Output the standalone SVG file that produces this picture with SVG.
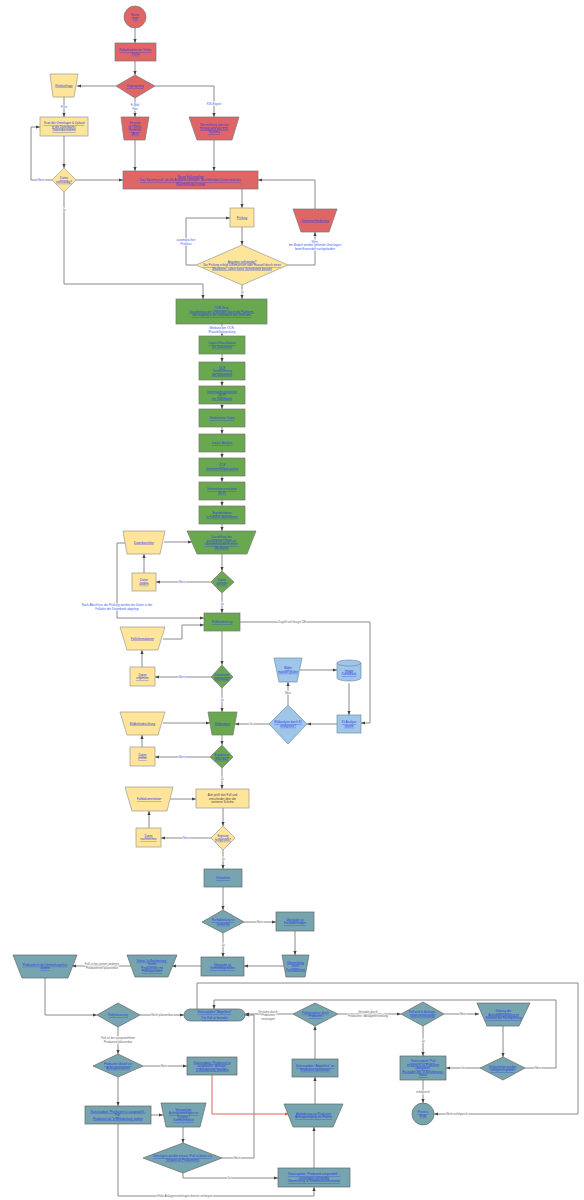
<svg xmlns="http://www.w3.org/2000/svg" width="584" height="1200" viewBox="0 0 584 1200">
<defs>
<marker id="a" viewBox="0 0 10 10" refX="10" refY="5" markerWidth="4" markerHeight="4" markerUnits="userSpaceOnUse" orient="auto"><path d="M0,1 L10,5 L0,9 z" fill="#444"/></marker>
<marker id="ar" viewBox="0 0 10 10" refX="10" refY="5" markerWidth="4" markerHeight="4" markerUnits="userSpaceOnUse" orient="auto"><path d="M0,1 L10,5 L0,9 z" fill="#e06060"/></marker>
</defs>
<style>
.red{fill:#e06666;stroke:#777;stroke-width:0.7}
.yel{fill:#ffe599;stroke:#999;stroke-width:0.7}
.grn{fill:#6aa84f;stroke:#777;stroke-width:0.7}
.blu{fill:#9fc5e8;stroke:#6f8fa8;stroke-width:0.7}
.tea{fill:#76a5af;stroke:#666;stroke-width:0.7}
text{font-family:"Liberation Sans",Arial,sans-serif;text-anchor:middle}
.t{font-size:3px;fill:#2b3fe0;text-decoration:underline}
.p{font-size:3px;fill:#444}
.l{font-size:3px;fill:#4060f0;paint-order:stroke;stroke:#fff;stroke-width:1.2}
.g{font-size:3px;fill:#666;paint-order:stroke;stroke:#fff;stroke-width:1.2}
#edges path{fill:none;stroke:#8a8a8a;stroke-width:1;stroke-linejoin:round;marker-end:url(#a)}
#edges path.r{stroke:#e06060;marker-end:url(#ar)}
</style>
<rect width="584" height="1200" fill="#fff"/>
<g id="edges">
<path d="M135,28 V43"/>
<path d="M135,61 V75"/>
<path d="M116,86 H77"/>
<path d="M64,97 V117"/>
<path d="M135,98 V117"/>
<path d="M155,86 H214 V117"/>
<path d="M135,140 V171"/>
<path d="M214,140 V171"/>
<path d="M64,136 V168"/>
<path d="M52,180 H31 V127 H40"/>
<path d="M76,180 H123"/>
<path d="M242,189 V208"/>
<path d="M242,227 V245"/>
<path d="M196,265 H186 V218 H230"/>
<path d="M288,265 H315 V232"/>
<path d="M315,209 V180 H258"/>
<path d="M242,285 V299"/>
<path d="M64,192 V284 H203 V299"/>
<path d="M222,324 V336"/>
<path d="M222,354 V362"/>
<path d="M222,380 V386"/>
<path d="M222,404 V409"/>
<path d="M222,427 V434"/>
<path d="M222,452 V458"/>
<path d="M222,476 V482"/>
<path d="M222,500 V506"/>
<path d="M222,524 V531"/>
<path d="M164,542 H192"/>
<path d="M222,554 V571"/>
<path d="M211,582 H156"/>
<path d="M144,573 V554"/>
<path d="M125,543 H117 V618 H204"/>
<path d="M222,593 V613"/>
<path d="M163,639 H182 V625 H204"/>
<path d="M240,622 H370 V723 H361"/>
<path d="M222,631 V665"/>
<path d="M211,677 H155"/>
<path d="M142,667 V650"/>
<path d="M222,688 V712"/>
<path d="M163,723 H210"/>
<path d="M269,724 H235"/>
<path d="M288,705 V682"/>
<path d="M300,670 H337"/>
<path d="M349,683 V715"/>
<path d="M337,724 H307"/>
<path d="M222,735 V745"/>
<path d="M210,757 H155"/>
<path d="M142,747 V735"/>
<path d="M222,768 V789"/>
<path d="M170,799 H196"/>
<path d="M223,808 V826"/>
<path d="M211,838 H161"/>
<path d="M149,828 V811"/>
<path d="M223,850 V869"/>
<path d="M223,887 V910"/>
<path d="M244,922 H276"/>
<path d="M295,931 V955"/>
<path d="M284,966 H244"/>
<path d="M223,933 V957"/>
<path d="M201,966 H172"/>
<path d="M131,966 H72"/>
<path d="M45,978 V1015 H97"/>
<path d="M140,1015 H184"/>
<path d="M118,1027 V1054"/>
<path d="M143,1066 H187"/>
<path class="r" d="M212,1075 V1114 H289"/>
<path d="M118,1077 V1106"/>
<path d="M151,1115 H163"/>
<path d="M183,1127 V1143"/>
<path d="M222,1158 H254 V1015 H245"/>
<path d="M293,1014 H245"/>
<path d="M183,1173 V1178 H278"/>
<path d="M118,1124 V1196 H314 V1187"/>
<path d="M314,1168 V1127"/>
<path d="M315,1104 V1077"/>
<path d="M315,1059 V1026"/>
<path d="M338,1014 H401"/>
<path d="M444,1014 H479"/>
<path d="M503,1026 V1057"/>
<path d="M480,1068 H446"/>
<path d="M423,1026 V1056"/>
<path d="M423,1080 V1103"/>
<path d="M525,1068 H556 V1000 H214 V1009"/>
<path d="M197,1009 V983 H578 V1114 H434"/>
</g>
<g id="edge-labels">
<text class="l" x="64" y="108">Post</text>
<text class="l" x="135" y="106.3">E-Mail<tspan x="135" dy="3.5">Fax</tspan></text>
<text class="l" x="214" y="105">KIS-Export</text>
<text class="l" x="41" y="181">Nein</text>
<text class="g" x="64" y="211">Ja</text>
<text class="l" x="186" y="241.3">automatischer<tspan x="186" dy="3.5">Prozess</tspan></text>
<text class="l" x="315" y="242.5">Nein,<tspan x="315" dy="3.5">bei Bedarf werden fehlende Unterlagen</tspan><tspan x="315" dy="3.5">beim Einsender nachgefordert</tspan></text>
<text class="g" x="242" y="293">Ja</text>
<text class="l" x="222" y="329.3">Meldung der OCR-<tspan x="222" dy="3.5">Plausibilitätsprüfung</tspan></text>
<text class="l" x="182" y="583">Nein</text>
<text class="l" x="222" y="605">Ja</text>
<text class="l" x="117" y="606.3">Nach Abschluss der Prüfung werden die Daten in der<tspan x="117" dy="3.5">Fallakte der Datenbank abgelegt</tspan></text>
<text class="g" x="292" y="623">Zugriff auf Image DB</text>
<text class="l" x="182" y="678">Nein</text>
<text class="l" x="222" y="701">Ja</text>
<text class="g" x="251" y="725">Ja</text>
<text class="g" x="288" y="694">Nein</text>
<text class="l" x="182" y="758">Nein</text>
<text class="g" x="222" y="780">Ja</text>
<text class="l" x="186" y="839">Nein</text>
<text class="g" x="223" y="860">Ja</text>
<text class="g" x="260" y="923">Nein</text>
<text class="g" x="223" y="946">Ja</text>
<text class="g" x="102" y="965.3">Fall ist bei einem anderen<tspan x="102" dy="3.5">Produzenten platzierbar</tspan></text>
<text class="g" x="162" y="1016">Nicht platzierbar</text>
<text class="g" x="118" y="1039.3">Fall ist bei ausgewähltem<tspan x="118" dy="3.5">Produzent platzierbar</tspan></text>
<text class="g" x="164" y="1067">Nein</text>
<text class="g" x="237" y="1159">Nein</text>
<text class="g" x="229" y="1179">Ja</text>
<text class="g" x="185" y="1197">Falls Anlagenunterlagen bereits vorliegen</text>
<text class="g" x="268" y="1012.5">Vergabe durch<tspan x="268" dy="3.5">Produzent</tspan><tspan x="268" dy="3.5">verweigert</tspan></text>
<text class="g" x="368" y="1013.3">Vergabe durch<tspan x="368" dy="3.5">Produzent / Anlagenerstellung</tspan></text>
<text class="g" x="463" y="1015">Nein</text>
<text class="g" x="423" y="1042">Ja</text>
<text class="g" x="463" y="1069">Ja</text>
<text class="g" x="538" y="1069">Nein</text>
<text class="g" x="423" y="1093">erfolgreich</text>
<text class="g" x="457" y="1115">Nicht erfolgreich</text>
</g>
<g id="start"><circle class="red" cx="135" cy="17" r="11"/><text class="t" x="135" y="16.3">Neuer<tspan x="135" dy="3.5">Fall</tspan></text></g>
<g id="n-fallaufnahme"><rect class="red" x="115" y="43" width="41" height="18"/><text class="t" x="135.5" y="51.3">Fallaufnahme im Online-<tspan x="135.5" dy="3.5">Portal</tspan></text></g>
<g id="d-zugangsweg"><polygon class="red" points="135,75 155,86 135,98 116,86"/><text class="t" x="135" y="87">Zugangsweg</text></g>
<g id="t-klinikanfrage"><polygon class="yel" points="50,74 78,74 74,97 53,97"/><text class="t" x="64" y="86.5">Klinikanfrage</text></g>
<g id="n-scan"><rect class="yel" x="40" y="117" width="48" height="19"/><text class="t" x="64" y="124">Scan der Unterlagen &amp; Upload<tspan x="64" dy="3.5">in die Datenbank /</tspan><tspan x="64" dy="3.5">Datenübernahme</tspan></text></g>
<g id="d-daten"><polygon class="yel" points="64,168 76,180 64,192 52,180"/><text class="t" x="64" y="179.3">Daten<tspan x="64" dy="3.5">vollständig?</tspan></text></g>
<g id="t-eingabe"><polygon class="red" points="121,117 149,117 145,140 124,140"/><text class="t" x="135" y="124.3">Eingabe<tspan x="135" dy="3.5">im Online-</tspan><tspan x="135" dy="3.5">Formular</tspan><tspan x="135" dy="3.5">(Arzt)</tspan></text></g>
<g id="t-kis"><polygon class="red" points="189,117 239,117 232,140 197,140"/><text class="t" x="214" y="126">Übermittlung über die<tspan x="214" dy="3.5">Schnittstelle des KIS-</tspan><tspan x="214" dy="3.5">Systems</tspan></text></g>
<g id="n-neuerfall"><rect class="red" x="123" y="171" width="135" height="18"/><text class="t" x="190.5" y="177.5">Neuer Fall angelegt<tspan x="190.5" dy="3.5">Das System prüft, ob alle Angaben vorliegen. Bei fehlenden Daten wird eine</tspan><tspan x="190.5" dy="3.5">Rückmeldung erzeugt</tspan></text></g>
<g id="n-pruefung"><rect class="yel" x="230" y="208" width="24" height="19"/><text class="t" x="242" y="218.5">Prüfung</text></g>
<g id="t-nachforderung"><polygon class="red" points="293,209 337,209 329,232 301,232"/><text class="t" x="315" y="221.5">Datennachforderung</text></g>
<g id="d-vollstaendig"><polygon class="yel" points="242,245 288,265 242,285 196,265"/><text class="t" x="242" y="262.5">Angaben vollständig?<tspan x="242" dy="3.5">Die Prüfung erfolgt automatisiert oder manuell durch einen</tspan><tspan x="242" dy="3.5">Mitarbeiter, sofern keine Schnittstelle besteht</tspan></text></g>
<g id="n-ocr"><rect class="grn" x="176" y="299" width="91" height="25"/><text class="t" x="221.5" y="309">OCR-Scan<tspan x="221.5" dy="3.5">Verarbeitung der Unterlagen durch die Plattform,</tspan><tspan x="221.5" dy="3.5">Übertragung in die Datenbank des Zentrums</tspan></text></g>
<g id="n-r1"><rect class="grn" x="199" y="336" width="46" height="18"/><text class="t" x="222" y="344.3">Layout-Klassifikation<tspan x="222" dy="3.5">der Dokumente</tspan></text></g>
<g id="n-r2"><rect class="grn" x="199" y="362" width="46" height="18"/><text class="t" x="222" y="368.5">OCR<tspan x="222" dy="3.5">Texterkennung</tspan><tspan x="222" dy="3.5">der Dokumente</tspan></text></g>
<g id="n-r3"><rect class="grn" x="199" y="386" width="46" height="18"/><text class="t" x="222" y="392.5">Informationsextraktion<tspan x="222" dy="3.5">(NLP)</tspan><tspan x="222" dy="3.5">der Dokumente</tspan></text></g>
<g id="n-r4"><rect class="grn" x="199" y="409" width="46" height="18"/><text class="t" x="222" y="419">Strukturierte Daten</text></g>
<g id="n-r5"><rect class="grn" x="199" y="434" width="46" height="18"/><text class="t" x="222" y="444">Layout-Analyse</text></g>
<g id="n-r6"><rect class="grn" x="199" y="458" width="46" height="18"/><text class="t" x="222" y="466.3">OCR<tspan x="222" dy="3.5">Texterkennungsergebnis</tspan></text></g>
<g id="n-r7"><rect class="grn" x="199" y="482" width="46" height="18"/><text class="t" x="222" y="490.3">Informationsextraktion<tspan x="222" dy="3.5">(NLP)</tspan></text></g>
<g id="n-r8"><rect class="grn" x="199" y="506" width="46" height="18"/><text class="t" x="222" y="514.3">Ergebnisdaten<tspan x="222" dy="3.5">in Fallakte übernehmen</tspan></text></g>
<g id="t-darstellung"><polygon class="grn" points="187,531 256,531 247,554 197,554"/><text class="t" x="221.5" y="538.3">Darstellung der<tspan x="221.5" dy="3.5">extrahierten Daten zur</tspan><tspan x="221.5" dy="3.5">Überprüfung durch einen</tspan><tspan x="221.5" dy="3.5">Mitarbeiter</tspan></text></g>
<g id="t-datenkorrektur"><polygon class="yel" points="123,531 165,531 160,554 127,554"/><text class="t" x="144" y="543.5">Datenkorrektur</text></g>
<g id="d-korrekt"><polygon class="grn" points="222,571 234,582 222,593 211,582"/><text class="t" x="222" y="581.3">Daten<tspan x="222" dy="3.5">korrekt?</tspan></text></g>
<g id="n-aendern"><rect class="yel" x="132" y="573" width="24" height="18"/><text class="t" x="144" y="581.3">Daten<tspan x="144" dy="3.5">ändern</tspan></text></g>
<g id="n-fallbearbeitung"><rect class="grn" x="204" y="613" width="36" height="18"/><text class="t" x="222" y="623">Fallbearbeitung</text></g>
<g id="t-fallinfo"><polygon class="yel" points="120,627 165,627 158,650 127,650"/><text class="t" x="142.5" y="639.5">Fallinformationen</text></g>
<g id="d-dokumente"><polygon class="grn" points="222,665 233,677 222,688 211,677"/><text class="t" x="222" y="676.3">Dokumente<tspan x="222" dy="3.5">vollständig?</tspan></text></g>
<g id="n-ergaenzen"><rect class="yel" x="130" y="667" width="25" height="19"/><text class="t" x="142.5" y="675.8">Daten<tspan x="142.5" dy="3.5">ergänzen</tspan></text></g>
<g id="t-bildanalyse"><polygon class="grn" points="208,712 237,712 233,735 212,735"/><text class="t" x="222.5" y="724.5">Bildanalyse</text></g>
<g id="t-bildbefund"><polygon class="yel" points="120,712 165,712 158,735 127,735"/><text class="t" x="142.5" y="724.5">Bildbefundsichtung</text></g>
<g id="d-ki"><polygon class="blu" points="288,705 307,724 288,744 269,724"/><text class="t" x="288" y="723.3">Bildanalyse durch KI<tspan x="288" dy="3.5">erfolgreich?</tspan></text></g>
<g id="t-manuell"><polygon class="blu" points="274,658 302,658 297,682 279,682"/><text class="t" x="288" y="669.3">Bilder<tspan x="288" dy="3.5">manuell prüfen</tspan></text></g>
<g id="db-image"><path class="blu" d="M337,663 a12,3 0 0 1 24,0 v15 a12,3 0 0 1 -24,0 z"/><path d="M337,663 a12,3 0 0 0 24,0" fill="none" stroke="#6f8fa8" stroke-width="0.7"/><text class="t" x="349" y="671.5">Image<tspan x="349" dy="3.5">Datenbank</tspan></text></g>
<g id="n-kistart"><rect class="blu" x="337" y="715" width="24" height="18"/><text class="t" x="349" y="723.3">KI-Analyse<tspan x="349" dy="3.5">starten</tspan></text></g>
<g id="d-plausibel"><polygon class="grn" points="222,745 233,757 222,768 210,757"/><text class="t" x="222" y="756.3">Ergebnisse<tspan x="222" dy="3.5">plausibel?</tspan></text></g>
<g id="n-pruefen1"><rect class="yel" x="130" y="747" width="25" height="19"/><text class="t" x="142.5" y="755.8">Daten<tspan x="142.5" dy="3.5">prüfen</tspan></text></g>
<g id="n-arzt"><rect class="yel" x="196" y="789" width="53" height="19"/><text class="p" x="222.5" y="796">Arzt prüft den Fall und<tspan x="222.5" dy="3.5">entscheidet über die</tspan><tspan x="222.5" dy="3.5">weiteren Schritte</tspan></text></g>
<g id="t-falldoku"><polygon class="yel" points="125,787 173,787 167,811 132,811"/><text class="t" x="149" y="800">Falldokumentation</text></g>
<g id="d-eignung"><polygon class="yel" points="223,826 235,838 223,850 211,838"/><text class="t" x="223" y="837.3">Eignung<tspan x="223" dy="3.5">festgestellt?</tspan></text></g>
<g id="n-nachreichen"><rect class="yel" x="136" y="828" width="25" height="19"/><text class="t" x="148.5" y="836.8">Daten<tspan x="148.5" dy="3.5">nachreichen</tspan></text></g>
<g id="n-gutachten"><rect class="tea" x="204" y="869" width="38" height="18"/><text class="t" x="223" y="879">Gutachten</text></g>
<g id="d-fachabteilung"><polygon class="tea" points="223,910 244,922 223,933 202,922"/><text class="t" x="223" y="921.3">Fachabteilung ist<tspan x="223" dy="3.5">zuständig</tspan></text></g>
<g id="n-uebergabe-fa"><rect class="tea" x="276" y="912" width="38" height="19"/><text class="t" x="295" y="920.8">Übergabe an<tspan x="295" dy="3.5">Fachabteilungen</tspan></text></g>
<g id="t-uebermittlung"><polygon class="tea" points="282,955 309,955 305,977 286,977"/><text class="t" x="295.5" y="963.5">Übermittlung<tspan x="295.5" dy="3.5">durch</tspan><tspan x="295.5" dy="3.5">Fachabteilung</tspan></text></g>
<g id="n-uebergabe-vs"><rect class="tea" x="201" y="957" width="43" height="19"/><text class="t" x="222.5" y="965.8">Übergabe an<tspan x="222.5" dy="3.5">Vermittlungsstellen</tspan></text></g>
<g id="t-suche"><polygon class="tea" points="127,955 177,955 168,977 135,977"/><text class="t" x="152" y="961.8">Status 'In Bearbeitung',<tspan x="152" dy="3.5">Suche</tspan><tspan x="152" dy="3.5">Produzenten mit</tspan><tspan x="152" dy="3.5">Fallkapazitäten</tspan></text></g>
<g id="t-produzent-liste"><polygon class="tea" points="13,955 77,955 68,978 22,978"/><text class="t" x="45" y="965.8">Produzent in der Vermittlungsliste<tspan x="45" dy="3.5">ändern</tspan></text></g>
<g id="d-platzierung"><polygon class="tea" points="118,1003 140,1015 118,1027 97,1015"/><text class="t" x="118" y="1016">Fallplatzierung</text></g>
<g id="n-abgelehnt"><rect class="tea" x="184" y="1009" width="61" height="12" rx="6"/><text class="t" x="214.5" y="1013">Statusupdate "Abgelehnt"<tspan x="214.5" dy="6">Der Fall ist beendet</tspan></text></g>
<g id="d-annahme"><polygon class="tea" points="118,1054 143,1066 118,1077 93,1066"/><text class="t" x="118" y="1065.3">Produzent aktuell zur<tspan x="118" dy="3.5">Auftragsannahme</tspan></text></g>
<g id="n-status-anfrage"><rect class="tea" x="187" y="1057" width="50" height="18"/><text class="t" x="212" y="1063.5">Statusupdate "Produzent ist<tspan x="212" dy="3.5">ausgewählt - Anfrage"</tspan><tspan x="212" dy="3.5">'In Bearbeitung' beenden</tspan></text></g>
<g id="n-status-fall"><rect class="tea" x="85" y="1106" width="66" height="18"/><text class="t" x="118" y="1112.5">Statusupdate "Produzent ist ausgewählt -<tspan x="118" dy="3.5">Fall"</tspan><tspan x="118" dy="3.5">Produzent als 'In Bearbeitung' ändern</tspan></text></g>
<g id="t-versand"><polygon class="tea" points="161,1103 206,1103 200,1127 166,1127"/><text class="t" x="183.5" y="1110.8">Versand der<tspan x="183.5" dy="3.5">Auftragsunterlagen an</tspan><tspan x="183.5" dy="3.5">Kunden /</tspan><tspan x="183.5" dy="3.5">Kommunikation</tspan></text></g>
<g id="d-bereit"><polygon class="tea" points="183,1143 222,1158 183,1173 143,1158"/><text class="t" x="182.5" y="1157.3">Unterlagen wurden erneut / Fall ist bereit zur<tspan x="182.5" dy="3.5">Vergabe an Produzenten</tspan></text></g>
<g id="n-status-vollstaendig"><rect class="tea" x="278" y="1168" width="72" height="19"/><text class="t" x="314" y="1175">Statusupdate "Produzent ausgewählt" -<tspan x="314" dy="3.5">Unterlagen vollständig</tspan><tspan x="314" dy="3.5">Übermittlung an Kommunikationsmodul</tspan></text></g>
<g id="t-anforderung"><polygon class="tea" points="284,1104 343,1104 333,1127 293,1127"/><text class="t" x="313.5" y="1114.8">Anforderung an Produzent<tspan x="313.5" dy="3.5">Auftragseingang als Partner</tspan></text></g>
<g id="n-status-abgelehnt"><rect class="tea" x="292" y="1059" width="46" height="18"/><text class="t" x="315" y="1067.3">Statusupdate "Abgelehnt" an<tspan x="315" dy="3.5">Produzent übermitteln</tspan></text></g>
<g id="d-akzeptanz"><polygon class="tea" points="315,1003 338,1014 315,1026 293,1014"/><text class="t" x="315.5" y="1013.8">Fallakzeptanz durch<tspan x="315.5" dy="3.5">Produzent</tspan></text></g>
<g id="d-bestaetigt"><polygon class="tea" points="423,1002 444,1014 423,1026 401,1014"/><text class="t" x="422.5" y="1013.3">Fall wird in Auftrags-<tspan x="422.5" dy="3.5">übersicht bestätigt</tspan></text></g>
<g id="t-klaerung"><polygon class="tea" points="477,1003 530,1003 519,1026 487,1026"/><text class="t" x="503.5" y="1012">Klärung der<tspan x="503.5" dy="3.5">Auftragsbestätigung im</tspan><tspan x="503.5" dy="3.5">Rahmen der Fachabteilung</tspan></text></g>
<g id="d-geklaert"><polygon class="tea" points="503,1057 525,1068 503,1080 480,1068"/><text class="t" x="502.5" y="1067.8">Unklarheiten wurden<tspan x="502.5" dy="3.5">erfolgreich geklärt</tspan></text></g>
<g id="n-status-erfolgreich"><rect class="tea" x="400" y="1056" width="46" height="24"/><text class="t" x="423" y="1062">Statusupdate "Fall<tspan x="423" dy="3.5">erfolgreich an Produzent</tspan><tspan x="423" dy="3.5">übergeben"</tspan><tspan x="423" dy="3.5">Rückgabe des 'In Bearbeitung'-</tspan><tspan x="423" dy="3.5">Status</tspan></text></g>
<g id="end"><circle class="tea" cx="423" cy="1114" r="11"/><text class="t" x="423" y="1113.3">Prozess<tspan x="423" dy="3.5">Ende</tspan></text></g>
</svg>
